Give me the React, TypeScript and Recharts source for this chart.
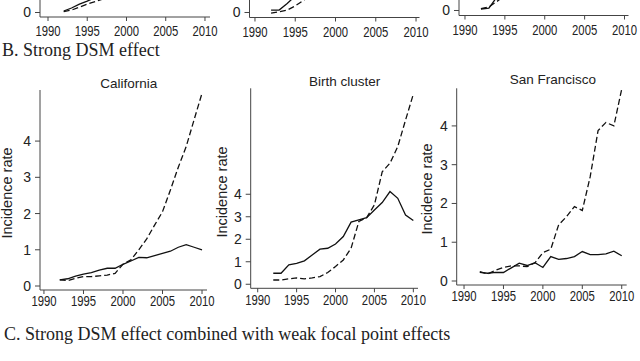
import React from 'react';
import { LineChart, Line, XAxis, YAxis } from 'recharts';

// ---------- data ----------
const years = [1992, 1993, 1994, 1995, 1996, 1997, 1998, 1999, 2000, 2001, 2002, 2003, 2004, 2005, 2006, 2007, 2008, 2009, 2010];

const californiaSolid = [0.17, 0.2, 0.27, 0.33, 0.37, 0.44, 0.49, 0.49, 0.6, 0.69, 0.79, 0.78, 0.84, 0.9, 0.96, 1.07, 1.14, 1.07, 1.0];
const californiaDashed = [0.17, 0.15, 0.21, 0.26, 0.26, 0.28, 0.3, 0.35, 0.6, 0.72, 1.0, 1.3, 1.68, 2.05, 2.65, 3.28, 3.85, 4.59, 5.32];

const birthSolid = [0.49, 0.49, 0.86, 0.93, 1.04, 1.3, 1.56, 1.6, 1.79, 2.12, 2.76, 2.86, 2.96, 3.3, 3.63, 4.12, 3.82, 3.08, 2.83];
const birthDashed = [0.19, 0.19, 0.24, 0.28, 0.24, 0.28, 0.34, 0.52, 0.79, 1.08, 1.6, 2.79, 2.96, 3.53, 5.0, 5.38, 6.12, 7.3, 8.45];

const sfSolid = [0.22, 0.2, 0.22, 0.22, 0.34, 0.46, 0.4, 0.47, 0.35, 0.63, 0.56, 0.58, 0.63, 0.76, 0.68, 0.68, 0.7, 0.77, 0.65];
const sfDashed = [0.24, 0.18, 0.28, 0.35, 0.39, 0.39, 0.37, 0.47, 0.73, 0.82, 1.45, 1.66, 1.92, 1.82, 2.69, 3.88, 4.09, 4.0, 4.95];

// partially visible panels of section A (cut off at the top of the picture)
const topYears = [1992, 1993, 1994, 1995, 1996, 1997];
const topASolid1 = [0.05, 0.15, 0.28, 0.38, 0.5, 0.65];
const topADashed1 = [0.03, 0.08, 0.18, 0.28, 0.36, 0.45];
const topASolid2 = [0.08, 0.08, 0.3, 0.55, 0.8, 1.0];
const topADashed2 = [-0.02, 0.02, 0.08, 0.22, 0.4, 0.6];
const topASolid3 = [0.05, 0.08, 0.45, 0.7, 0.9, 1.1];
const topADashed3 = [0.06, 0.12, 0.3, 0.5, 0.7, 0.9];

const xTicks = [1990, 1995, 2000, 2005, 2010];
const yTicks = [0, 1, 2, 3, 4];
const topYTicks = [0];
const panelTitles = ['California', 'Birth cluster', 'San Francisco'];
const yAxisLabel = 'Incidence rate';
const headingB = 'B. Strong DSM effect';
const headingC = 'C. Strong DSM effect combined with weak focal point effects';

// ---------- styles ----------
const SANS = '"Liberation Sans", Arial, sans-serif';
const SERIF = '"Liberation Serif", "Times New Roman", serif';
const AX = '#444';
const TXT = '#222';
const LINE = '#111';

const build = (ys: number[], s: number[], d: number[]) =>
  ys.map((year, i) => ({ year, solid: s[i], dashed: d[i] }));

const NarrowTick = (props: any) => {
  const { x, y, payload } = props;
  return (
    <g transform={`translate(${x},${y})`}>
      <text
        transform="scale(0.78,1)"
        textAnchor="middle"
        dy="0.71em"
        fontSize={14.5}
        fill={TXT}
        fontFamily={SANS}
      >
        {payload.value}
      </text>
    </g>
  );
};

type PanelProps = {
  svgLeft: number; svgTop: number; svgW: number; svgH: number;
  pl: number; pr: number; pt: number; pb: number;
  xDomain: [number, number]; yDomain: [number, number];
  data: any[]; tickMargin?: number; ticksY?: number[];
};

function Panel({ svgLeft, svgTop, svgW, svgH, pl, pr, pt, pb, xDomain, yDomain, data, tickMargin = 2, ticksY = yTicks }: PanelProps) {
  const xAxisH = 24;
  const margin = {
    top: pt - svgTop,
    right: svgLeft + svgW - pr,
    bottom: svgTop + svgH - pb - xAxisH,
    left: 0,
  };
  const yAxisW = pl - svgLeft;
  return (
    <div style={{ position: 'absolute', left: svgLeft, top: svgTop, width: svgW, height: svgH }}>
      <LineChart width={svgW} height={svgH} data={data} margin={margin}>
        <XAxis
          dataKey="year"
          type="number"
          domain={xDomain}
          ticks={xTicks}
          interval={0}
          allowDataOverflow
          height={xAxisH}
          tickSize={4}
          tickMargin={tickMargin}
          tick={<NarrowTick />}
          axisLine={{ stroke: AX, strokeWidth: 1 }}
          tickLine={{ stroke: AX, strokeWidth: 1 }}
        />
        <YAxis
          type="number"
          domain={yDomain}
          ticks={ticksY}
          interval={0}
          allowDataOverflow
          width={yAxisW}
          tickSize={5}
          tickMargin={4}
          tick={{ fontSize: 14, fill: TXT, fontFamily: SANS }}
          axisLine={{ stroke: AX, strokeWidth: 1 }}
          tickLine={{ stroke: AX, strokeWidth: 1 }}
        />
        <Line dataKey="solid" type="linear" stroke={LINE} strokeWidth={1.3} dot={false} isAnimationActive={false} />
        <Line dataKey="dashed" type="linear" stroke={LINE} strokeWidth={1.3} strokeDasharray="6 3" dot={false} isAnimationActive={false} />
      </LineChart>
    </div>
  );
}

export default function App() {
  const caData = build(years, californiaSolid, californiaDashed);
  const bcData = build(years, birthSolid, birthDashed);
  const sfData = build(years, sfSolid, sfDashed);
  const t1 = build(topYears, topASolid1, topADashed1);
  const t2 = build(topYears, topASolid2, topADashed2);
  const t3 = build(topYears, topASolid3, topADashed3);

  return (
    <div style={{ position: 'absolute', left: 0, top: 0, width: 640, height: 361, overflow: 'hidden', background: '#fff' }}>
      {/* Section A (cut off) */}
      <Panel svgLeft={0} svgTop={-200} svgW={226} svgH={262} pl={40} pr={210} pt={-150} pb={17}
        xDomain={[1988.98, 2010.64]} yDomain={[-0.15, 5.42]} data={t1} tickMargin={5} ticksY={topYTicks} />
      <Panel svgLeft={215} svgTop={-200} svgW={222} svgH={262} pl={249.5} pr={419.5} pt={-150} pb={17.5}
        xDomain={[1989.32, 2010.43]} yDomain={[-0.167, 5.42]} data={t2} tickMargin={5} ticksY={topYTicks} />
      <Panel svgLeft={430} svgTop={-200} svgW={210} svgH={262} pl={459} pr={628.5} pt={-150} pb={15.5}
        xDomain={[1989.25, 2010.5]} yDomain={[-0.167, 5.35]} data={t3} tickMargin={5} ticksY={topYTicks} />

      {/* Section B */}
      <Panel svgLeft={0} svgTop={60} svgW={224} svgH={258} pl={40} pr={207} pt={90} pb={290}
        xDomain={[1989.5, 2010.63]} yDomain={[-0.11, 5.41]} data={caData} />
      <Panel svgLeft={212} svgTop={60} svgW={222} svgH={258} pl={250.7} pr={418} pt={88.3} pb={288.3}
        xDomain={[1989.1, 2010.6]} yDomain={[-0.18, 8.71]} data={bcData} />
      <Panel svgLeft={434} svgTop={60} svgW={206} svgH={258} pl={456.7} pr={626.7} pt={88.3} pb={285}
        xDomain={[1989.07, 2010.63]} yDomain={[-0.103, 4.97]} data={sfData} />

      {/* free text overlay */}
      <svg width={640} height={361} style={{ position: 'absolute', left: 0, top: 0, pointerEvents: 'none' }}>
        <text x={2} y={56} fontFamily={SERIF} fontSize={18} fill={TXT}>{headingB}</text>
        <text x={4} y={340} fontFamily={SERIF} fontSize={18} fill={TXT}>{headingC}</text>

        <text x={128.7} y={88} textAnchor="middle" fontFamily={SANS} fontSize={13.5} fill={TXT}>{panelTitles[0]}</text>
        <text x={344.7} y={86} textAnchor="middle" fontFamily={SANS} fontSize={13.5} fill={TXT}>{panelTitles[1]}</text>
        <text x={553} y={83.5} textAnchor="middle" fontFamily={SANS} fontSize={13.5} fill={TXT}>{panelTitles[2]}</text>

        <text x={12} y={193} transform="rotate(-90 12 193)" textAnchor="middle" fontFamily={SANS} fontSize={14.5} fill={TXT}>{yAxisLabel}</text>
        <text x={226.5} y={192} transform="rotate(-90 226.5 192)" textAnchor="middle" fontFamily={SANS} fontSize={14.5} fill={TXT}>{yAxisLabel}</text>
        <text x={432} y={189} transform="rotate(-90 432 189)" textAnchor="middle" fontFamily={SANS} fontSize={14.5} fill={TXT}>{yAxisLabel}</text>
      </svg>
    </div>
  );
}
